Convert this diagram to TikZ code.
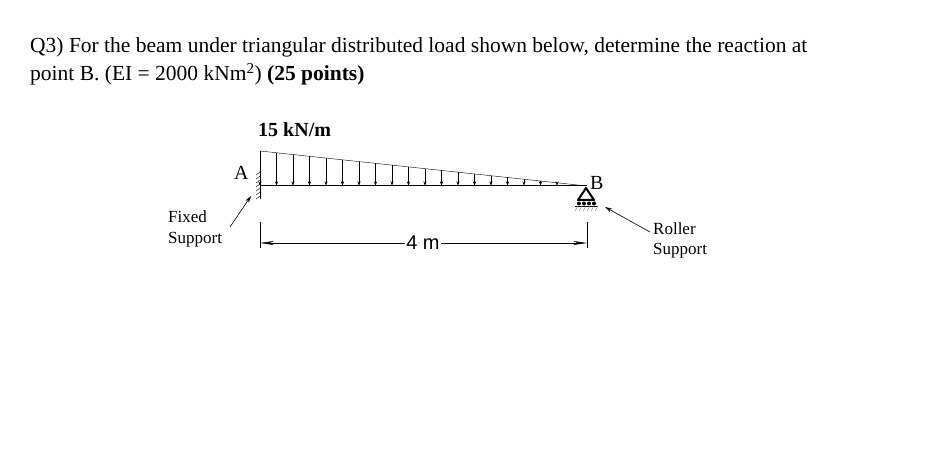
\documentclass[tikz,border=0pt]{standalone}
\usepackage{fontspec}
\setmainfont{Liberation Serif}
\newfontfamily\arialf{Liberation Sans}
\usetikzlibrary{arrows.meta}
\begin{document}
\begin{tikzpicture}[x=1pt,y=-1pt,
  lbl/.style={inner sep=0pt,anchor=west,font=\fontsize{17}{20}\selectfont},
  ld/.style={-{Stealth[length=4pt,width=3pt]},line width=0.4pt},
  ptr/.style={-{Stealth[length=7pt,width=4pt]},line width=0.6pt},
  dim/.style={{Stealth[length=14pt,width=4pt]}-{Stealth[length=14pt,width=4pt]},line width=0.5pt}]
\useasboundingbox[fill=white] (0,0) rectangle (950,465);
\node[lbl,anchor=base west,font=\fontsize{21.5}{25}\selectfont] (t1) at (30,53) {Q3) For the beam under triangular distributed load shown below, determine the reaction at};
\node[lbl,anchor=base west,font=\fontsize{21.5}{25}\selectfont] (t2) at (30,81) {point B. (EI = 2000 kNm\textsuperscript{2}) \textbf{(25 points)}};
\coordinate (A) at (260,186);
\coordinate (B) at (587,186);
\coordinate (T) at (260,151);
\draw[line width=1pt] (A) -- (B);
\draw[line width=0.4pt] (T) -- (B);
\foreach \i in {0,...,18}{
  \pgfmathsetmacro{\xx}{260+\i*16.5}
  \pgfmathsetmacro{\yy}{151+35*(\xx-260)/327}
  \draw[ld] (\xx,\yy) -- (\xx,185.5);
}
\draw[line width=0.8pt] (260,151) -- (260,199);
\foreach \k in {0,...,6}{\draw[line width=0.4pt] (260,{172+\k*4}) -- (256,{175+\k*4});}
\node[lbl,font=\fontsize{20}{22}\selectfont] (la) at (234,173) {A};
\node[lbl,font=\fontsize{20}{22}\selectfont] (lb) at (590,183) {B};
\node[lbl,font=\bfseries\fontsize{20}{22}\selectfont] (q) at (258,130) {15 kN/m};
% roller
\draw[line width=2pt,line join=round] (586,188) -- (578,200) -- (594,200) -- cycle;
\foreach \c in {579,584,589,594}{\fill (\c,203.5) circle (2);}
\draw[line width=0.5pt] (575,206) -- (598,206);
\foreach \k in {0,...,5}{\draw[line width=0.4pt,gray] ({578+\k*4},206) -- ({575+\k*4},211);}
\node[lbl] (fx) at (168,217) {Fixed};
\node[lbl] (fs) at (168,240) {Support};
\node[lbl] (rr) at (653,229) {Roller};
\node[lbl] (rs) at (653,251) {Support};
\coordinate (fa) at (230,227);
\coordinate (fb) at (251,196);
\draw[ptr] (fa) -- (fb);
\coordinate (ra) at (650,232);
\coordinate (rb) at (605,207);
\draw[ptr] (ra) -- (rb);
\draw[line width=0.4pt] (260,222) -- (260,248);
\draw[line width=0.4pt] (587,222) -- (587,248);
\coordinate (d1) at (260,243);
\coordinate (d2) at (587,243);
\draw[dim] (d1) -- (d2);
\node[fill=white,inner sep=1pt,font=\arialf\fontsize{20}{22}\selectfont] (dm) at (423,243) {4 m};
\end{tikzpicture}
\end{document}
